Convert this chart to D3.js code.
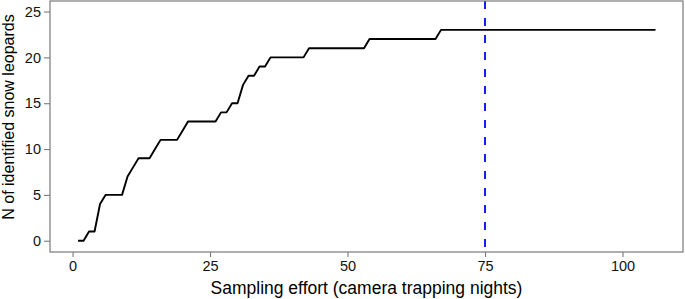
<!DOCTYPE html>
<html>
<head>
<meta charset="utf-8">
<script src="https://cdn.jsdelivr.net/npm/d3@7"></script>
<style>
  body { margin: 0; background: #fff; }
  svg { display: block; font-family: "Liberation Sans", Arial, sans-serif; }
</style>
</head>
<body>
<div id="chart"></div>
<script>
// ------- Data (vertices of the accumulation curve) -------
const nights = [1, 2, 3, 4, 5, 6, 9, 10, 11, 12, 14, 15, 16, 19, 20, 21, 26, 27, 28, 29, 30,
  31, 32, 33, 34, 35, 36, 42, 43, 53, 54, 66, 67, 106];
const leopards = [0, 0, 1, 1, 4, 5, 5, 7, 8, 9, 9, 10, 11, 11, 12, 13, 13, 14, 14, 15, 15,
  17, 18, 18, 19, 19, 20, 20, 21, 21, 22, 22, 23, 23];
const xTicks = [0, 25, 50, 75, 100];
const yTicks = [0, 5, 10, 15, 20, 25];
const cutoff = 75;

// ------- Chart Setup -------
const W = 685, H = 299;
const panel = { left: 50, right: 683, top: 1, bottom: 252 };

const svg = d3.select("#chart")
  .append("svg")
  .attr("width", W)
  .attr("height", H);

const x = d3.scaleLinear().domain([-4.1, 111]).range([panel.left, panel.right]);
const y = d3.scaleLinear().domain([-1.23, 26.15]).range([panel.bottom, panel.top]);

const points = nights.map((n, i) => ({ n, v: leopards[i] }));

// ------- Axes -------
const xAxis = svg.append("g")
  .attr("transform", `translate(0,${panel.bottom})`)
  .call(d3.axisBottom(x).tickValues(xTicks).tickSize(5).tickPadding(4).tickFormat(d3.format("d")));

const yAxis = svg.append("g")
  .attr("transform", `translate(${panel.left},0)`)
  .call(d3.axisLeft(y).tickValues(yTicks).tickSize(6).tickPadding(3).tickFormat(d3.format("d")));

[xAxis, yAxis].forEach(g => {
  g.select(".domain").remove();
  g.selectAll(".tick line").attr("stroke", "#7a7a7a").attr("stroke-width", 1.1);
  g.selectAll(".tick text")
    .attr("fill", "#111")
    .style("font-size", "14.5px")
    .style("font-family", "'Liberation Sans', Arial, sans-serif");
});

// ------- Data line -------
svg.append("path")
  .datum(points)
  .attr("fill", "none")
  .attr("stroke", "#000")
  .attr("stroke-width", 1.9)
  .attr("stroke-linejoin", "round")
  .attr("d", d3.line().x(d => x(d.n)).y(d => y(d.v)));

// dashed cut-off line
svg.append("line")
  .attr("x1", x(cutoff))
  .attr("x2", x(cutoff))
  .attr("y1", panel.top)
  .attr("y2", panel.bottom)
  .attr("stroke", "#1a1aff")
  .attr("stroke-width", 2)
  .attr("stroke-dasharray", "8,9");

// panel border
svg.append("rect")
  .attr("x", panel.left)
  .attr("y", panel.top)
  .attr("width", panel.right - panel.left)
  .attr("height", panel.bottom - panel.top)
  .attr("fill", "none")
  .attr("stroke", "#7a7a7a")
  .attr("stroke-width", 1.2);

// ------- Axis Labels -------
svg.append("text")
  .attr("x", (panel.left + panel.right) / 2)
  .attr("y", 294)
  .attr("text-anchor", "middle")
  .style("font-size", "17.5px")
  .attr("fill", "#000")
  .text("Sampling effort (camera trapping nights)");

svg.append("text")
  .attr("transform", "translate(14,117) rotate(-90)")
  .attr("text-anchor", "middle")
  .style("font-size", "16px")
  .attr("fill", "#000")
  .text("N of identified snow leopards");
</script>
</body>
</html>
